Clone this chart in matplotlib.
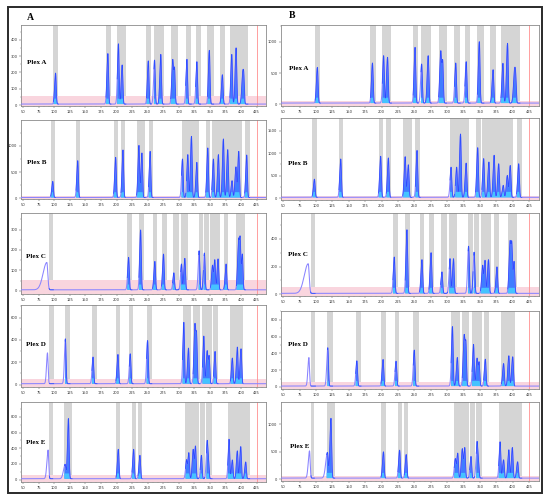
import numpy as np
import matplotlib
matplotlib.use('Agg')
import matplotlib.pyplot as plt
from matplotlib.patches import Rectangle
from matplotlib.ticker import MultipleLocator

# ---------------- data ----------------
plex_names = ["Plex A", "Plex B", "Plex C", "Plex D", "Plex E"]
x_ticks = [50, 75, 100, 125, 150, 175, 200, 225, 250, 275, 300, 325, 350, 375, 400, 425]
marker_end = 425

plexA_pos = [102, 186, 203, 209, 251, 261, 271, 290, 293, 313, 329, 349, 370, 385, 392, 402, 404]
plexA_hA = [190, 310, 370, 240, 265, 270, 305, 240, 225, 275, 260, 330, 180, 305, 345, 90, 195]
plexA_hB = [575, 645, 763, 737, 898, 629, 763, 737, 694, 645, 666, 989, 537, 640, 963, 258, 521]
plexA_bins = [(98.6, 106.6), (183, 191), (201, 215), (248, 256), (260, 276), (287, 299),
              (311, 320), (327, 335), (346, 356), (366, 374), (382, 411)]

plexB_pos = [97.5, 137.6, 198.5, 210.3, 235.9, 240.7, 254, 305.9, 314.4, 320.3, 328.9, 346.5,
             355.6, 363.6, 371.6, 378.5, 385.5, 391.7, 396.2, 409]
plexB_hA = [305, 698, 762, 902, 984, 845, 876, 730, 813, 1162, 667, 940, 730, 813, 1111, 908,
            318, 571, 876, 806]
plexB_hB = [402, 849, 910, 872, 895, 720, 1038, 667, 667, 1402, 758, 1099, 857, 781, 932, 743,
            265, 478, 705, 743]
plexB_bins = [(94.3, 101.8), (134.9, 141.3), (195.3, 202.2), (207.1, 214), (232.2, 246.1),
              (251.4, 258.9), (304.3, 311.2), (312.3, 332.6), (343.3, 350.8), (352.9, 401),
              (405.8, 413.8)]

plexC_pos = [88, 219.3, 238.6, 261.5, 275.4, 292, 304.3, 309.6, 332.6, 341.1, 354, 357.7, 363,
             375.9, 395.6, 398.3, 402]
plexC_hA = [134, 159, 293, 139, 175, 83, 126, 154, 191, 180, 113, 147, 151, 126, 191, 251, 175]
plexC_hB = [213, 261, 457, 242, 292, 154, 249, 249, 339, 296, 190, 237, 242, 190, 292, 360, 230]
plexC_bins = [(91.7, 98.6), (217.2, 224.7), (235.9, 243.9), (257.8, 265.3), (272.2, 280.2),
              (290, 300.4), (303, 315.5), (331.9, 339.4), (340.5, 348), (350.8, 366.8),
              (372.1, 379.6), (392.4, 406.9)]

plexD_pos = [89, 117.8, 162.2, 202.2, 222, 249.8, 308, 315.5, 325.6, 328.3, 340.1, 345.4, 348.6,
             358.2, 386, 394, 399.9]
plexD_hA = [276, 401, 238, 261, 267, 386, 549, 318, 431, 460, 425, 267, 252, 288, 229, 327, 312]
plexD_hB = [340, 456, 300, 316, 296, 428, 708, 340, 488, 536, 496, 300, 288, 320, 268, 360, 348]
plexD_bins = [(92.2, 99.1), (117.3, 125.3), (160.4, 168.6), (199, 206), (220.4, 226.8),
              (248.2, 256.7), (305.9, 319.7), (322.9, 333.6), (337.9, 353.4), (355.6, 363.1),
              (382.8, 403.1)]

plexE_pos = [90, 117.3, 122.7, 202.8, 227.4, 237.5, 312.3, 316, 323, 326.7, 336.3, 345.4, 347.5,
             380.7, 386, 394, 399.4, 407.4]
plexE_hA = [366, 183, 767, 375, 375, 298, 226, 332, 354, 417, 298, 396, 226, 503, 239, 354, 409, 213]
plexE_hB = [497, 467, 1091, 479, 509, 430, 333, 455, 509, 557, 394, 545, 303, 661, 333, 515, 557, 297]
plexE_bins = [(92.2, 97.5), (116.2, 128.5), (199.2, 206.1), (224.8, 231.2), (234.5, 240.9),
              (310.7, 332.6), (334.2, 341.7), (344.3, 353.4), (378.5, 413.8)]

threshold = 55

# ---------------- layout / style ----------------
W, H = 550, 498
XMIN, XMAX = 46.5, 440
fig = plt.figure(figsize=(W / 100, H / 100), dpi=100)
fig.patch.set_facecolor('white')

colA_boxes = [(21, 25, 266, 106), (21, 120, 266, 199.5), (21, 213, 266, 294),
              (21, 305, 266, 387), (21, 402, 266, 482)]
colB_boxes = [(281, 25, 539, 106), (281, 118, 539, 200), (281, 213, 539, 296),
              (281, 311, 539, 389), (281, 402, 539, 481)]
colA_ylim = [(-6, 492, 100), (-20, 1490, 500), (-16, 381, 100), (-21, 713, 200), (-30, 991, 200)]
colB_ylim = [(-32, 1274, 500), (-38, 1780, 500), (-12, 585, 200), (-24, 905, 200), (-36, 1406, 500)]
colA_lab = [(27, 63), (27, 162), (26, 257), (26, 344), (26, 443)]
colB_lab = [(289, 68), (288, 163), (288, 254), (288, 344), (290, 446)]

# broad (non-allelic) peaks: (plex index, peak index) -> (left sigma, right sigma)
broad = {(2, 0): (6.0, 1.5), (4, 0): (1.9, 1.0), (4, 1): (2.6, 1.3)}

plex_pos = [plexA_pos, plexB_pos, plexC_pos, plexD_pos, plexE_pos]
plex_hA = [plexA_hA, plexB_hA, plexC_hA, plexD_hA, plexE_hA]
plex_hB = [plexA_hB, plexB_hB, plexC_hB, plexD_hB, plexE_hB]
plex_bins = [plexA_bins, plexB_bins, plexC_bins, plexD_bins, plexE_bins]

xs = np.linspace(XMIN, XMAX, 8000)


def make_trace(pi, pos, hts, base):
    y = np.full_like(xs, base)
    for k, (p, h) in enumerate(zip(pos, hts)):
        sl, sr = broad.get((pi, k), (1.5, 1.0))
        s = np.where(xs < p, sl, sr)
        y += h * np.exp(-0.5 * ((xs - p) / s) ** 2)
    return y


def draw_panel(box, ylim, pi, hts, lab):
    l, t, r, b = box
    ax = fig.add_axes([l / W, 1 - b / H, (r - l) / W, (b - t) / H])
    y0, y1, step = ylim
    ax.set_xlim(XMIN, XMAX)
    ax.set_ylim(y0, y1)
    for (a, c) in plex_bins[pi]:
        ax.axvspan(a, c, color='#d5d5d5', lw=0, zorder=0)
    ax.axhspan(y0, threshold, color='#f9d5de', lw=0, zorder=1)
    ax.axvline(marker_end, color='#ff8f8f', lw=0.6, zorder=1)
    base = 0.012 * y1
    y = make_trace(pi, plex_pos[pi], hts, base)
    inb = np.zeros_like(xs, dtype=bool)
    for (a, c) in plex_bins[pi]:
        inb |= (xs >= a) & (xs <= c)
    ax.fill_between(xs, base, y, where=inb & (y > base * 1.6), color='#3f7dff', lw=0, zorder=2)
    ax.fill_between(xs, base, np.minimum(y, 0.08 * y1), where=inb & (y > base * 1.6),
                    color='#45c3ff', lw=0, zorder=3)
    ax.plot(xs, y, color='#8a84ff', lw=0.75, zorder=4)
    yb = np.where(inb, y, np.nan)
    ax.plot(xs, yb, color='#2b4dff', lw=0.55, zorder=5)

    ax.set_xticks(x_ticks)
    ax.set_xticklabels([str(v) for v in x_ticks])
    ax.xaxis.set_minor_locator(MultipleLocator(25 / 3))
    ax.yaxis.set_major_locator(MultipleLocator(step))
    ax.yaxis.set_minor_locator(MultipleLocator(step / 2))
    ax.tick_params(axis='both', which='major', labelsize=2.6, length=1.6, width=0.35,
                   pad=1.0, colors='#555555', labelcolor='#333333')
    ax.tick_params(axis='both', which='minor', length=1.0, width=0.3, colors='#777777')
    for sp in ax.spines.values():
        sp.set_color('#8a8a8a')
        sp.set_linewidth(0.6)
    fig.text(lab[0] / W, 1 - lab[1] / H, plex_names[pi], fontsize=5, fontweight='bold',
             family=['Liberation Serif', 'DejaVu Serif'], ha='left', va='center')
    return ax


for i in range(5):
    draw_panel(colA_boxes[i], colA_ylim[i], i, plex_hA[i], colA_lab[i])
    draw_panel(colB_boxes[i], colB_ylim[i], i, plex_hB[i], colB_lab[i])

fig.text(27 / W, 1 - 18 / H, "A", fontsize=7, fontweight='bold',
         family=['Liberation Serif', 'DejaVu Serif'], ha='left', va='center')
fig.text(289 / W, 1 - 16 / H, "B", fontsize=7, fontweight='bold',
         family=['Liberation Serif', 'DejaVu Serif'], ha='left', va='center')

# outer frame
fig.patches.append(Rectangle((8 / W, 1 - 493 / H), (542 - 8) / W, (493 - 7) / H,
                             transform=fig.transFigure, fill=False, ec='#2a2a2a', lw=1.4))

fig.savefig('out.png', dpi=100, facecolor='white')
